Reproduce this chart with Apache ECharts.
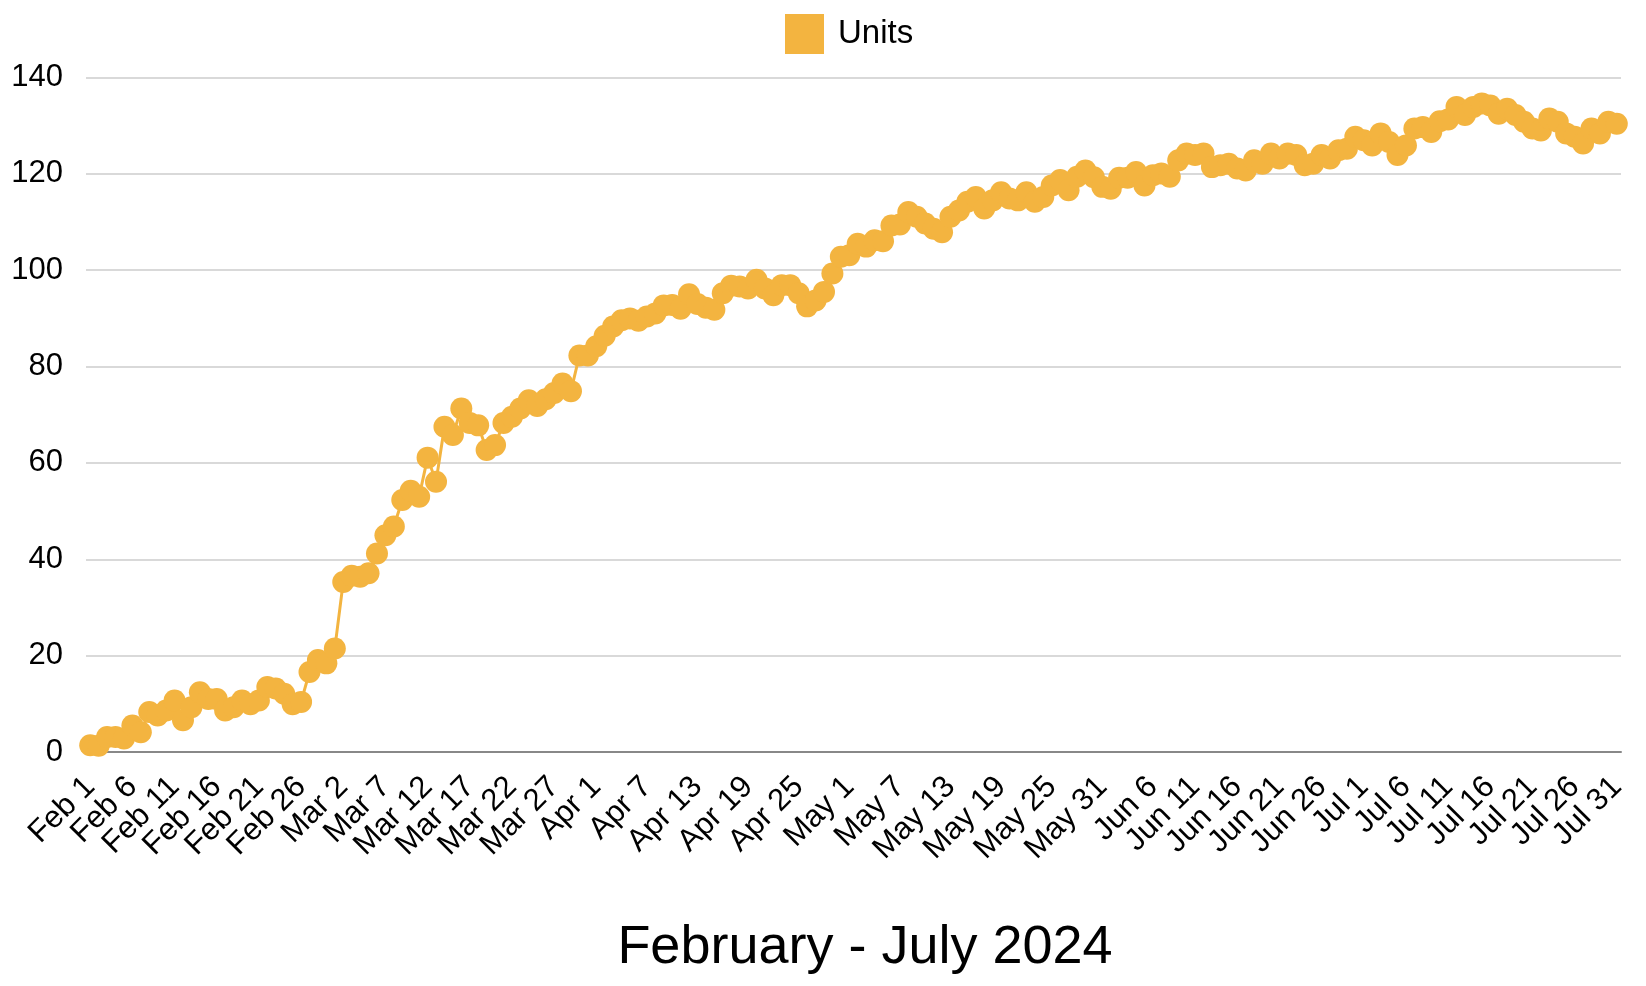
<!DOCTYPE html>
<html>
<head>
<meta charset="utf-8">
<script src="https://cdn.jsdelivr.net/npm/echarts@6/dist/echarts.min.js"></script>
<style>
  html, body { margin: 0; padding: 0; background: #fff; }
  #chart { width: 1646px; height: 986px; }
</style>
</head>
<body>
<div id="chart"></div>
<script>
// Month names and day counts for Feb–Jul 2024 (leap year) used to build daily category labels
const monthNames = ['Feb', 'Mar', 'Apr', 'May', 'Jun', 'Jul'];
const monthDays = [29, 31, 30, 31, 30, 31];

// Tick labels shown on the x axis
const tickLabels = ['Feb 1','Feb 6','Feb 11','Feb 16','Feb 21','Feb 26','Mar 2','Mar 7','Mar 12','Mar 17',
  'Mar 22','Mar 27','Apr 1','Apr 7','Apr 13','Apr 19','Apr 25','May 1','May 7','May 13','May 19','May 25',
  'May 31','Jun 6','Jun 11','Jun 16','Jun 21','Jun 26','Jul 1','Jul 6','Jul 11','Jul 16','Jul 21','Jul 26','Jul 31'];

// Daily units, Feb 1 – Jul 31
const units = [
  1.4, 1.3, 3.1, 3.1, 2.8, 5.5, 4.1, 8.3, 7.6, 8.6,
  10.7, 6.6, 9.3, 12.4, 11.0, 11.0, 8.6, 9.3, 10.7, 9.9,
  10.7, 13.5, 13.2, 12.1, 9.9, 10.4, 16.6, 19.1, 18.4, 21.5,
  35.3, 36.6, 36.4, 37.1, 41.2, 45.0, 46.8, 52.3, 54.2, 53.0,
  61.1, 56.1, 67.5, 65.8, 71.3, 68.3, 67.8, 62.7, 63.7, 68.3,
  69.6, 71.3, 73.0, 71.8, 73.2, 74.5, 76.5, 74.9, 82.3, 82.3,
  84.2, 86.4, 88.3, 89.6, 90.0, 89.5, 90.4, 91.0, 92.7, 92.8,
  92.0, 95.0, 93.0, 92.2, 91.8, 95.2, 96.8, 96.6, 96.2, 98.0,
  96.2, 94.8, 96.9, 96.9, 95.2, 92.5, 93.7, 95.5, 99.3, 102.8,
  103.1, 105.5, 104.9, 106.2, 106.0, 109.3, 109.5, 112.1, 111.1, 109.7,
  108.6, 107.9, 111.1, 112.4, 114.2, 115.2, 112.8, 114.5, 116.2, 114.9,
  114.5, 116.2, 114.2, 115.2, 117.6, 118.7, 116.6, 119.4, 120.7, 119.3,
  117.3, 116.9, 119.2, 119.2, 120.4, 117.6, 119.7, 120.1, 119.4, 122.8,
  124.2, 123.9, 124.2, 121.4, 121.8, 122.1, 121.1, 120.7, 122.8, 122.1,
  124.2, 123.2, 124.2, 123.9, 121.8, 122.1, 123.9, 123.2, 124.9, 125.2,
  127.7, 127.0, 125.9, 128.4, 126.6, 123.9, 125.9, 129.4, 129.7, 128.7,
  130.9, 131.3, 133.9, 132.2, 133.9, 134.6, 134.2, 132.5, 133.5, 132.2,
  130.8, 129.4, 129.0, 131.5, 130.8, 128.4, 127.7, 126.3, 129.4, 128.4,
  130.8, 130.4
];

const yTicks = { min: 0, max: 140, interval: 20 };

const dates = [];
monthNames.forEach((m, k) => {
  for (let d = 1; d <= monthDays[k]; d++) dates.push(m + ' ' + d);
});

const FONT = 'Liberation Sans, Arial, Helvetica, sans-serif';
const COLOR = '#F3B440';

const chart = echarts.init(document.getElementById('chart'));
chart.setOption({
  backgroundColor: '#ffffff',
  animation: false,
  title: {
    text: 'February - July 2024',
    left: 860,
    top: 916,
    textAlign: 'center',
    textStyle: { fontFamily: FONT, fontSize: 54, fontWeight: 'normal', color: '#000' }
  },
  legend: {
    data: ['Units'],
    left: 780,
    top: 9,
    icon: 'rect',
    itemWidth: 39,
    itemHeight: 40,
    textStyle: { fontFamily: FONT, fontSize: 33, color: '#000', padding: [0, 0, 0, 9] }
  },
  grid: { left: 86, right: 25, top: 77.5, bottom: 234, containLabel: false },
  xAxis: {
    type: 'category',
    data: dates,
    boundaryGap: true,
    axisTick: { show: false },
    axisLine: { show: true, lineStyle: { color: '#888', width: 2 } },
    splitLine: { show: false },
    axisLabel: {
      rotate: 45,
      interval: 0,
      formatter: (val) => (tickLabels.indexOf(val) !== -1 ? val : ''),
      showMinLabel: true,
      showMaxLabel: true,
      hideOverlap: false,
      fontFamily: FONT,
      fontSize: 31,
      color: '#000',
      margin: 30
    }
  },
  yAxis: {
    type: 'value',
    min: yTicks.min,
    max: yTicks.max,
    interval: yTicks.interval,
    axisLine: { show: false },
    axisTick: { show: false },
    splitLine: { lineStyle: { color: '#cccccc', width: 1.5 } },
    axisLabel: { fontFamily: FONT, fontSize: 31, color: '#000', margin: 23 }
  },
  series: [{
    name: 'Units',
    type: 'line',
    data: units,
    symbol: 'circle',
    symbolSize: 22,
    showAllSymbol: true,
    itemStyle: { color: COLOR },
    lineStyle: { color: COLOR, width: 3 }
  }]
});
</script>
</body>
</html>
